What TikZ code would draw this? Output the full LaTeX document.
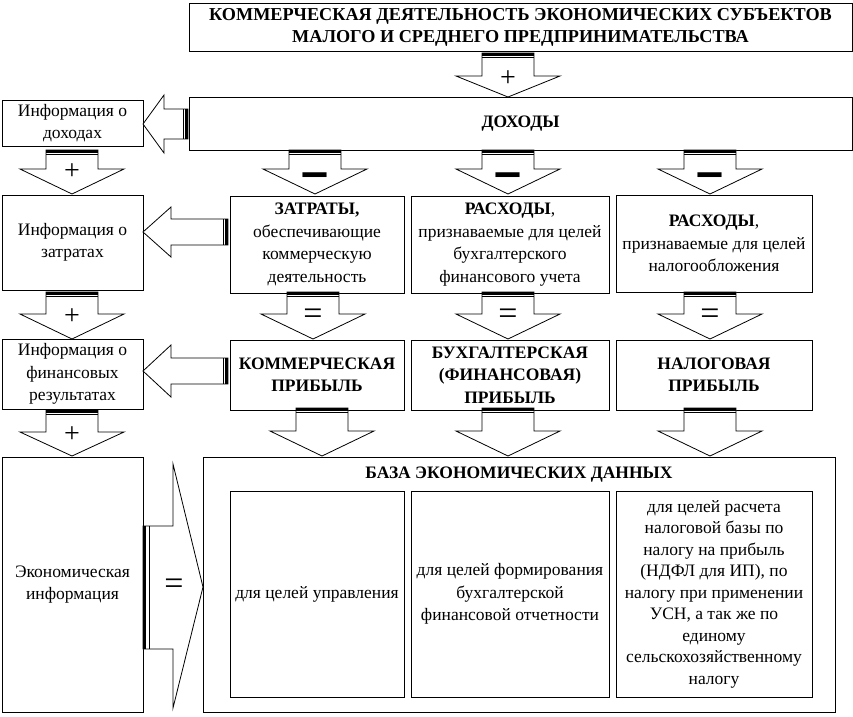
\documentclass[tikz,border=0pt]{standalone}
\usepackage{fontspec}
\setmainfont{Liberation Serif}
\newfontfamily\signfont{DejaVu Sans}
\newcommand\fs{\fontsize{17.5}{22.5}\selectfont}
\newcommand\signplus{\fontsize{28}{28}\selectfont +}
\newcommand\signeq{\fontsize{34}{34}\selectfont =}
\newcommand\signminus{\raisebox{-13pt}[0pt][0pt]{\scalebox{1}[1.4]{\fontsize{27}{27}\signfont\bfseries —}}}
\tikzset{
  box/.style={draw, line width=0.9pt, inner sep=2pt, align=center, font=\fs},
  arr/.style={draw, line width=0.8pt, fill=white},
  sign/.style={inner sep=0pt},
}
% cx, ytop, yshoulder, ytip, label
\newcommand\blockdown[5]{%
  \draw[arr] (#1-26,#2) -- (#1-26,#3) -- (#1-52,#3) -- (#1,#4) -- (#1+52,#3) -- (#1+26,#3) -- (#1+26,#2) -- cycle;
  \draw[line width=2.6pt] (#1-26,#2+1.3) -- (#1+26,#2+1.3);
  \draw[line width=0.8pt] (#1-26,#2+4.8) -- (#1+26,#2+4.8);
  \node[sign] at (#1,#3+3) {#5};
}
% tipx, cy, headbackx, basex, shaft half, head half
\newcommand\blockleft[6]{%
  \draw[arr] (#4,#2-#5) -- (#3,#2-#5) -- (#3,#2-#6) -- (#1,#2) -- (#3,#2+#6) -- (#3,#2+#5) -- (#4,#2+#5) -- cycle;
  \draw[line width=2.6pt] (#4-1.3,#2-#5) -- (#4-1.3,#2+#5);
  \draw[line width=0.8pt] (#4-4.8,#2-#5) -- (#4-4.8,#2+#5);
}
\begin{document}
\begin{tikzpicture}[x=1pt,y=-1pt]
\useasboundingbox (0,0) rectangle (853,716);
% top row
\node[box, minimum width=663, minimum height=48, font=\fontsize{18.2}{22}\selectfont\bfseries] (top) at (520.5,27)
  {КОММЕРЧЕСКАЯ ДЕЯТЕЛЬНОСТЬ ЭКОНОМИЧЕСКИХ СУБЪЕКТОВ\\МАЛОГО И СРЕДНЕГО ПРЕДПРИНИМАТЕЛЬСТВА};
\node[box, minimum width=663, minimum height=53, font=\fs\bfseries] (doh) at (520.5,123.5) {ДОХОДЫ};
\node[box, minimum width=141, minimum height=46] (infoD) at (72.5,123) {Информация о\\доходах};
% row 2
\node[box, minimum width=141, minimum height=95] (infoZ) at (72.5,242.5) {Информация о\\затратах};
\node[box, minimum width=174, minimum height=97] (zatr) at (317,244.5)
  {\textbf{ЗАТРАТЫ,}\\обеспечивающие\\коммерческую\\деятельность};
\node[box, minimum width=198, minimum height=97] (rasB) at (510,244.5)
  {\textbf{РАСХОДЫ},\\признаваемые для целей\\бухгалтерского\\финансового учета};
\node[box, minimum width=196, minimum height=97] (rasC) at (714,243.5)
  {\textbf{РАСХОДЫ},\\признаваемые для целей\\налогообложения};
% row 3
\node[box, minimum width=141, minimum height=70] (infoF) at (72.5,374) {Информация о\\финансовых\\результатах};
\node[box, minimum width=174, minimum height=70, font=\fs\bfseries] (komm) at (317,375) {КОММЕРЧЕСКАЯ\\ПРИБЫЛЬ};
\node[box, minimum width=198, minimum height=70, font=\fs\bfseries] (buh) at (510,375) {БУХГАЛТЕРСКАЯ\\(ФИНАНСОВАЯ)\\ПРИБЫЛЬ};
\node[box, minimum width=196, minimum height=70, font=\fs\bfseries] (nal) at (714,375) {НАЛОГОВАЯ\\ПРИБЫЛЬ};
% bottom
\node[box, minimum width=141, minimum height=255] (econ) at (72.5,584.5) {Экономическая\\информация};
\node[box, minimum width=632, minimum height=255] (baza) at (519,584.5) {};
\node[font=\fs\bfseries, inner sep=0] (bazaT) at (519,475) {БАЗА ЭКОНОМИЧЕСКИХ ДАННЫХ};
\node[box, minimum width=174, minimum height=206] (inA) at (317,594) {для целей управления};
\node[box, minimum width=198, minimum height=206] (inB) at (510,594) {для целей формирования\\бухгалтерской\\финансовой отчетности};
\node[box, minimum width=196, minimum height=206, font=\fontsize{17.5}{21.5}\selectfont] (inC) at (714,594)
  {для целей расчета\\налоговой базы по\\налогу на прибыль\\(НДФЛ для ИП), по\\налогу при применении\\УСН, а так же по\\единому\\сельскохозяйственному\\налогу};
% down arrows
\blockdown{508}{53}{76}{97}{\signplus}
\blockdown{72}{150}{169}{194}{\signplus}
\blockdown{72}{292}{314}{339}{\signplus}
\blockdown{72}{410}{432}{456}{\signplus}
\blockdown{315}{150}{169}{194}{\signminus}
\blockdown{508}{150}{169}{194}{\signminus}
\blockdown{710}{150}{169}{194}{\signminus}
\blockdown{313}{292}{314}{339}{\signeq}
\blockdown{508}{292}{314}{339}{\signeq}
\blockdown{710}{292}{314}{339}{\signeq}
\blockdown{322}{408}{431}{456}{}
\blockdown{508}{408}{431}{456}{}
\blockdown{710}{408}{431}{456}{}
% left arrows
\blockleft{143}{124}{164}{188}{15}{29}
\blockleft{143}{232}{171}{228}{13}{25}
\blockleft{143}{371}{171}{228}{13}{26}
% right arrow
\draw[arr] (143,526) -- (173,526) -- (173,464) -- (203,587) -- (173,708) -- (173,649) -- (143,649) -- cycle;
\draw[line width=2.6pt] (144.3,526) -- (144.3,649);
\draw[line width=0.8pt] (149.8,526) -- (149.8,649);
\node[sign] (eqR) at (174,587) {\signeq};
\end{tikzpicture}
\end{document}
